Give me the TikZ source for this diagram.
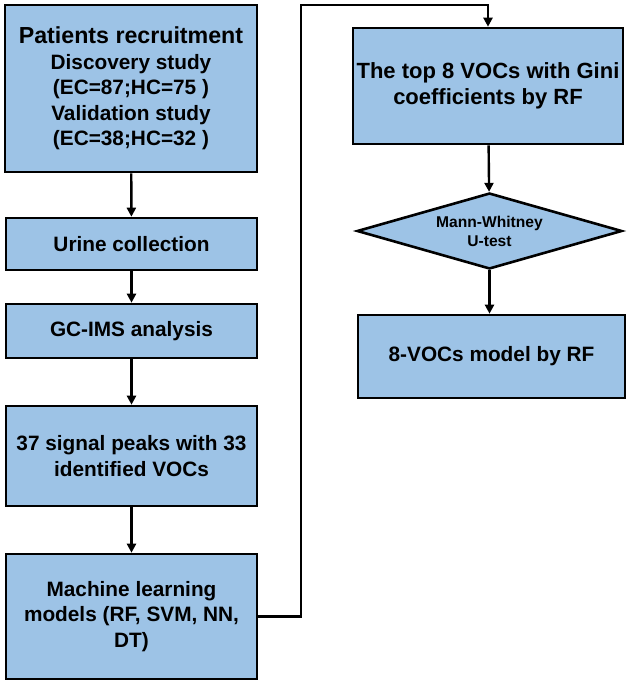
\documentclass[tikz,border=0pt]{standalone}
\usepackage{fontspec}
\setmainfont{Liberation Sans}
\usetikzlibrary{arrows.meta,shapes.geometric}
\definecolor{boxblue}{HTML}{9DC3E6}
\begin{document}
\begin{tikzpicture}[x=1pt, y=-1pt, >={Triangle[length=9pt, width=9pt]},
    stepbox/.style={draw, line width=2.6pt, fill=boxblue, align=center, font=\bfseries\fontsize{20.8}{25.5}\selectfont, inner sep=2pt},
    testbox/.style={diamond, draw, line width=2.6pt, fill=boxblue, align=center, font=\bfseries\fontsize{15.6}{19}\selectfont, inner sep=0pt, aspect=3.5},
    link/.style={->, line width=2.4pt}]
    \useasboundingbox (0,0) rectangle (632,685);
    % Nodes
    \node[stepbox, minimum width=252pt, minimum height=167pt] (recruit) at (131, 88.5)
        {{\fontsize{23.2}{27}\selectfont Patients recruitment}\\Discovery study\\(EC=87;HC=75 )\\Validation study\\(EC=38;HC=32 )};
    \node[stepbox, minimum width=251pt, minimum height=52pt]  (urine)   at (131.5, 244) {Urine collection};
    \node[stepbox, minimum width=251pt, minimum height=54pt]  (gcims)   at (131.5, 331) {GC-IMS analysis};
    \node[stepbox, minimum width=251pt, minimum height=100pt] (peaks)   at (131.5, 456) {37 signal peaks with 33\\identified VOCs};
    \node[stepbox, minimum width=251pt, minimum height=125pt] (ml)      at (131.5, 616.5) {Machine learning\\models (RF, SVM, NN,\\DT)};
    \node[stepbox, minimum width=270pt, minimum height=116pt, font=\bfseries\fontsize{22}{26.5}\selectfont] (top8) at (488, 86) {The top 8 VOCs with Gini\\coefficients by RF};
    \node[testbox, minimum width=265pt, minimum height=76pt]  (mwu)     at (489.5, 231) {Mann-Whitney\\U-test};
    \node[stepbox, minimum width=267pt, minimum height=83pt]  (model)   at (491.5, 356.5) {8-VOCs model by RF};
    \coordinate (c1) at (301, 616.5);
    \coordinate (c2) at (301, 5);
    \coordinate (c3) at (488, 5);
    % Arrows connecting the nodes
    \draw[link] (recruit) -- (urine);
    \draw[link] (urine) -- (gcims);
    \draw[link] (gcims) -- (peaks);
    \draw[link] (peaks) -- (ml);
    \draw[link, line join=miter] (ml.east) -- (c1) -- (c2) -- (c3) -- (top8.north);
    \draw[link] (top8) -- (mwu);
    \draw[link] (mwu.south) -- (mwu.south |- model.north);
\end{tikzpicture}
\end{document}
